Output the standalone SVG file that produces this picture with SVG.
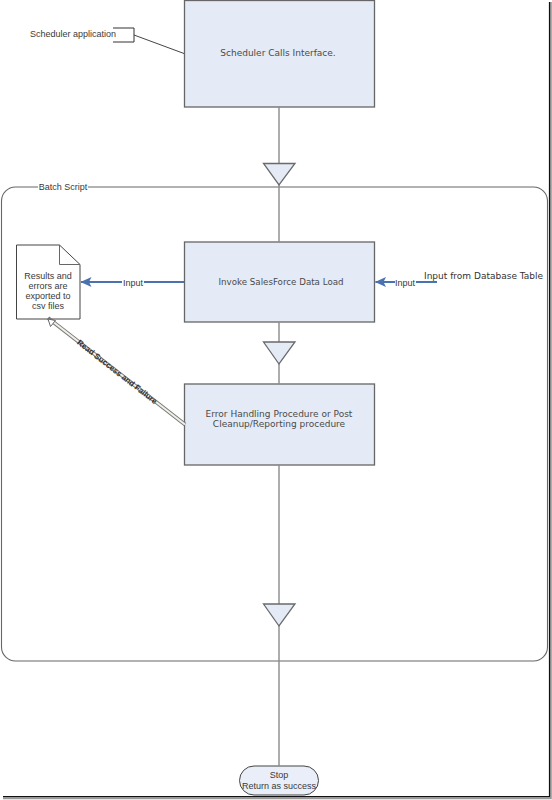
<svg xmlns="http://www.w3.org/2000/svg" width="552" height="800" viewBox="0 0 552 800">
<style>
.box{fill:#e4eaf6;stroke:#666;stroke-width:1.3}
.tri{fill:#e4eaf6;stroke:#6a6a6a;stroke-width:1.3;stroke-linejoin:miter}
.flow{fill:none;stroke:#8a8a8a;stroke-width:1.4}
.blue{fill:none;stroke:#4a72b0;stroke-width:2}
.v{font-family:"DejaVu Sans",Verdana,sans-serif;font-size:9px;fill:#4a4a4a;text-anchor:middle}
.a{font-family:"Liberation Sans",Arial,sans-serif;font-size:9px;fill:#3a3a3a;text-anchor:middle}
</style>
<defs>
<marker id="bh" markerUnits="userSpaceOnUse" markerWidth="12" markerHeight="10" refX="10.500" refY="5" orient="auto" viewBox="0 0 12 10"><path d="M11 5L0 0L2.500 5L0 10Z" fill="#4a72b0"/></marker>
</defs>
<rect width="552" height="800" fill="#fff"/>
<g id="frame">
<path d="M550.500 2V798H3" fill="none" stroke="#999" stroke-width="2.600"/>
<path d="M549.500 2V796.500H3" fill="none" stroke="#111" stroke-width="1.200"/>
</g>
<g id="batch-script">
<rect x="1.500" y="187" width="546" height="474" rx="14" fill="none" stroke="#666" stroke-width="1.100"/>
<rect x="38" y="182" width="50" height="10" fill="#fff"/>
<text class="a" x="63" y="190">Batch Script</text>
</g>
<g id="scheduler-application">
<path d="M113 28H134V42H113" fill="none" stroke="#333" stroke-width="1"/>
<text class="a" x="73" y="37">Scheduler application</text>
</g>
<g id="scheduler-calls">
<rect class="box" x="184.500" y="0.500" width="190" height="106.500"/>
<text class="v" x="278" y="56">Scheduler Calls Interface.</text>
</g>
<g id="invoke-data-load">
<rect class="box" x="184.500" y="242" width="190" height="80"/>
<text class="v" x="281" y="285" style="font-size:8.700px">Invoke SalesForce Data Load</text>
</g>
<g id="results-file">
<path d="M16.500 245H59.500L80 264.500V319H16.500Z" fill="#fff" stroke="#444" stroke-width="1"/>
<path d="M59.500 245V264.500H80" fill="none" stroke="#666" stroke-width="1"/>
<text class="a"><tspan x="48" y="279">Results and</tspan><tspan x="48" y="289">errors are</tspan><tspan x="48" y="299">exported to</tspan><tspan x="48" y="309">csv files</tspan></text>
</g>
<g id="input-table">
<text x="424" y="279" font-family="DejaVu Sans,Verdana,sans-serif" font-size="9px" fill="#333">Input from Database Table</text>
</g>
<g id="error-handling">
<rect class="box" x="184.500" y="384" width="190" height="81"/>
<text class="v"><tspan x="279" y="417">Error Handling Procedure or Post</tspan><tspan x="279" y="427">Cleanup/Reporting procedure</tspan></text>
</g>
<g id="stop">
<rect x="239.500" y="766" width="79" height="29" rx="14.500" fill="#e9eef8" stroke="#444" stroke-width="1"/>
<text class="a"><tspan x="279" y="778">Stop</tspan><tspan x="279" y="788.500">Return as success</tspan></text>
</g>
<g id="connectors">
<path class="flow" d="M279 107V242"/>
<path class="flow" d="M279 322V384"/>
<path class="flow" d="M279 465V766"/>
<path d="M134 35L184 53.500" fill="none" stroke="#444" stroke-width="1"/>
<path class="blue" d="M184 282H81" marker-end="url(#bh)"/>
<path class="blue" d="M437 282H375.500" marker-end="url(#bh)"/>
<path d="M185 424.500L48 318" fill="none" stroke="#777" stroke-width="4"/>
<path d="M185 424.500L52 321" fill="none" stroke="#f1f0e6" stroke-width="2.200"/>
<path d="M48 319L50.500 326.500L55.500 320.500Z" fill="#fff" stroke="#666" stroke-width="1"/>
<rect x="122" y="277" width="22" height="10" fill="#fff"/>
<text class="a" x="133" y="285.500">Input</text>
<rect x="395" y="277" width="21" height="10" fill="#fff"/>
<text class="a" x="405" y="285.500">Input</text>
<text transform="translate(115.500 374) rotate(38)" text-anchor="middle" font-family="Liberation Sans,Arial,sans-serif" font-size="8" font-weight="bold" fill="#333">Read Success and Failure</text>
</g>
<g id="merge-1"><path class="tri" d="M263.500 163.500H295L279 185Z"/></g>
<g id="merge-2"><path class="tri" d="M263.500 342H295L279 364Z"/></g>
<g id="merge-3"><path class="tri" d="M263.500 604H295L279 626Z"/></g>
</svg>
